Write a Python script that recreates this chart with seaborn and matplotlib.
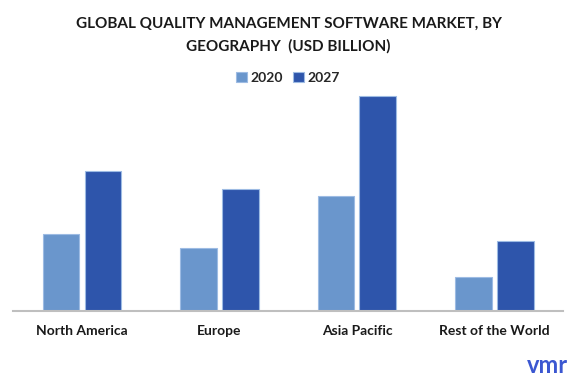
import numpy as np
import pandas as pd
import matplotlib.pyplot as plt
import seaborn as sns

# values (USD billion, approximate)
regions = ["North America", "Europe", "Asia Pacific", "Rest of the World"]
years = ["2020", "2027"]
values_2020 = [3.08, 2.52, 4.60, 1.36]
values_2027 = [5.60, 4.88, 8.60, 2.80]

colors = ["#6a96cc", "#2e55ab"]

df = pd.DataFrame({
    "region": regions * 2,
    "year": [years[0]] * len(regions) + [years[1]] * len(regions),
    "value": values_2020 + values_2027,
})

sns.set_theme(style="white")
plt.rcParams["font.family"] = ["Lato", "DejaVu Sans"]

fig = plt.figure(figsize=(5.77, 3.91), dpi=100)
ax = fig.add_axes([0.023, 0.2046, 0.953, 0.565])

sns.barplot(data=df, x="region", y="value", hue="year", palette=colors,
            saturation=1, width=0.61, gap=0.12, edgecolor="#9dbbe3",
            linewidth=0.8, ax=ax, legend=True)

ax.set_xlim(-0.5, 3.5)
ax.set_ylim(0, 8.84)
ax.set_xlabel("")
ax.set_ylabel("")
ax.set_yticks([])
for s in ["top", "right", "left"]:
    ax.spines[s].set_visible(False)
ax.spines["bottom"].set_color("#bfbfbf")
ax.spines["bottom"].set_linewidth(1.5)
ax.tick_params(axis="x", length=0, pad=10)
for lbl in ax.get_xticklabels():
    lbl.set_fontweight("bold")
    lbl.set_fontsize(10)
    lbl.set_color("#1a1a1a")

ax.legend(loc="center", bbox_to_anchor=(0.5, 1.054), ncol=2, frameon=False,
          prop={"weight": "bold", "size": 10}, handlelength=0.75,
          handleheight=0.75, handletextpad=0.3, columnspacing=0.7)

fig.text(0.5, 0.94, "GLOBAL QUALITY MANAGEMENT SOFTWARE MARKET, BY",
         ha="center", va="center", fontsize=11, fontweight="bold", color="#1a1a1a")
fig.text(0.5, 0.882, "GEOGRAPHY  (USD BILLION)",
         ha="center", va="center", fontsize=11, fontweight="bold", color="#1a1a1a")

# logo text
fig.text(0.985, 0.035, "vmr", ha="right", va="bottom", fontsize=17,
         color="#3b57d1", fontweight="bold")

fig.savefig("out.png", dpi=100)
